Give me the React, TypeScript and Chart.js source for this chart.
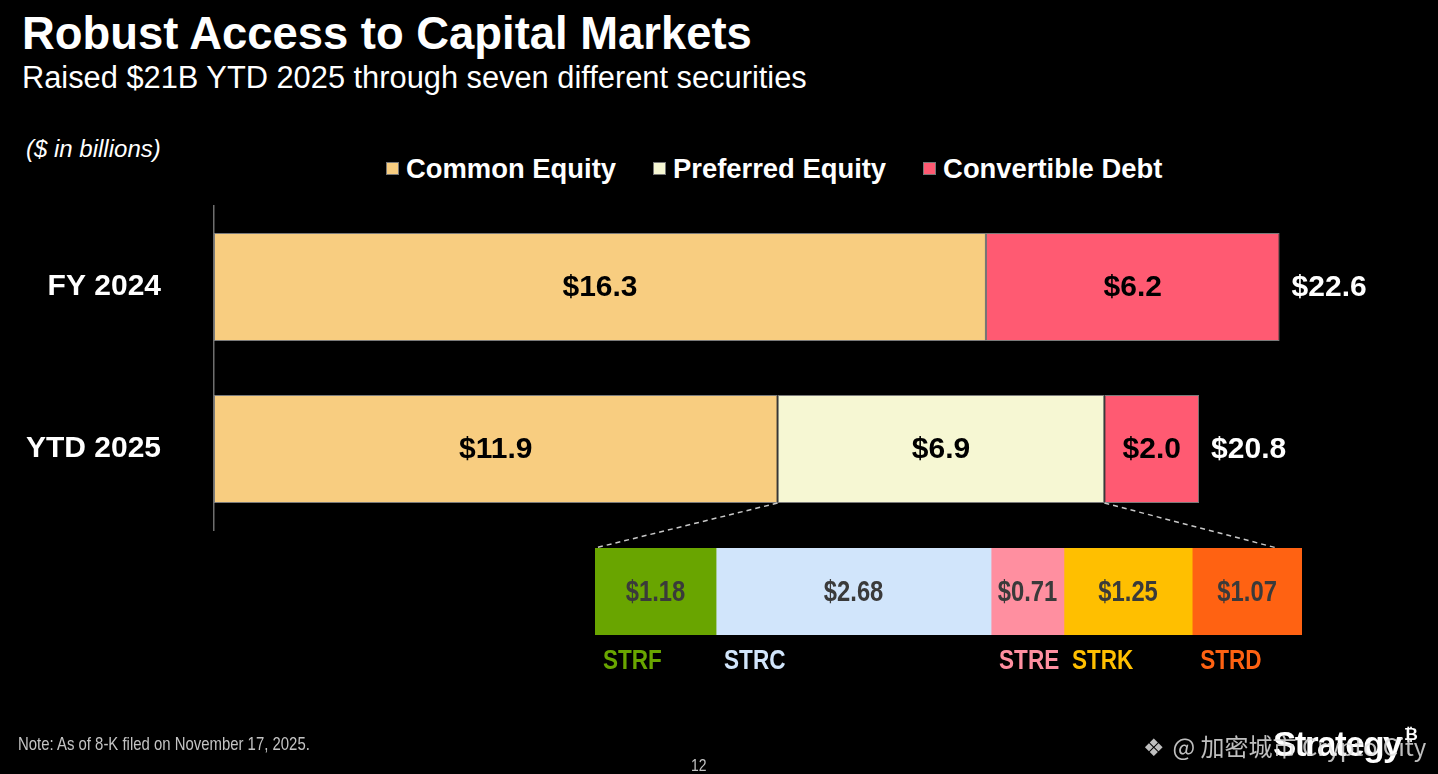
import { useEffect, useRef } from "react";
import { Chart, registerables } from "chart.js";

Chart.register(...registerables);

// ---------- data ----------
const categories = ["FY 2024", "YTD 2025"];
const seriesNames = ["Common Equity", "Preferred Equity", "Convertible Debt"];
const commonEquity = [16.3, 11.9];
const preferredEquity = [0, 6.9];
const convertibleDebt = [6.2, 2.0];
const totals = [22.6, 20.8];
const seriesColors = ["#F8CD80", "#F6F7D3", "#FF5A72"];

const prefCategory = ["Preferred Equity YTD 2025"];
const prefSecurities = ["STRF", "STRC", "STRE", "STRK", "STRD"];
const prefValues = [1.18, 2.68, 0.71, 1.25, 1.07];
const prefColors = ["#69A500", "#D1E5FB", "#FF8FA0", "#FFBF00", "#FF6212"];
const prefLabelColors = ["#69A500", "#D1E5FB", "#FF8FA0", "#FFBF00", "#FF6212"];

const titleText = "Robust Access to Capital Markets";
const subtitleText = "Raised $21B YTD 2025 through seven different securities";
const unitText = "($ in billions)";
const noteText = "Note: As of 8-K filed on November 17, 2025.";
const pageNumber = "12";

// ---------- layout ----------
const W = 1438;
const H = 774;
const PREF_LEFT = 595;
const PREF_TOP = 548;
const PREF_W = 720;
const PREF_H = 140;
const NARROW_SCALE = 0.82;

const SANS = '"Liberation Sans", Arial, Helvetica, sans-serif';

function narrowText(ctx: CanvasRenderingContext2D, text: string, x: number, y: number) {
  ctx.save();
  ctx.translate(x, y);
  ctx.scale(NARROW_SCALE, 1);
  ctx.fillText(text, 0, 0);
  ctx.restore();
}

export default function App() {
  const mainRef = useRef<HTMLCanvasElement | null>(null);
  const prefRef = useRef<HTMLCanvasElement | null>(null);

  useEffect(() => {
    if (!mainRef.current || !prefRef.current) return;

    const prefTotal = prefValues.reduce((a, b) => a + b, 0);

    const prefLabels = {
      id: "prefLabels",
      afterDatasetsDraw(chart: any) {
        const ctx = chart.ctx;
        ctx.save();
        chart.data.datasets.forEach((ds: any, i: number) => {
          const meta = chart.getDatasetMeta(i);
          meta.data.forEach((el: any, j: number) => {
            const { x, base, y, height } = el.getProps(["x", "base", "y", "height"], true);
            const v = ds.data[j];
            ctx.font = `bold 29px ${SANS}`;
            ctx.fillStyle = "#3a3a3a";
            ctx.textAlign = "center";
            ctx.textBaseline = "middle";
            narrowText(ctx, `$${v.toFixed(2)}`, (x + base) / 2, y + 1);
            ctx.font = `bold 27.5px ${SANS}`;
            ctx.fillStyle = prefLabelColors[i];
            ctx.textAlign = "left";
            narrowText(ctx, prefSecurities[i], Math.min(x, base) + 8, y + height / 2 + 26);
          });
        });
        ctx.restore();
      },
    };

    const prefChart = new Chart(prefRef.current, {
      type: "bar",
      data: {
        labels: prefCategory,
        datasets: prefSecurities.map((name, i) => ({
          label: name,
          data: [prefValues[i]],
          backgroundColor: prefColors[i],
          borderWidth: 0,
          borderSkipped: false,
          categoryPercentage: 1,
          barPercentage: 1,
        })),
      },
      options: {
        indexAxis: "y",
        responsive: false,
        animation: false,
        layout: { padding: { left: 0, top: 0, right: PREF_W - 707, bottom: PREF_H - 87 } },
        plugins: { legend: { display: false }, title: { display: false }, tooltip: { enabled: false } },
        scales: {
          x: { stacked: true, display: false, min: 0, max: prefTotal },
          y: { stacked: true, display: false },
        },
      },
      plugins: [prefLabels],
    } as any);

    const mainLabels = {
      id: "mainLabels",
      afterDatasetsDraw(chart: any) {
        const ctx = chart.ctx;
        ctx.save();
        ctx.textBaseline = "middle";
        chart.data.datasets.forEach((ds: any, i: number) => {
          const meta = chart.getDatasetMeta(i);
          meta.data.forEach((el: any, j: number) => {
            const v = ds.data[j];
            if (!v) return;
            const { x, base, y } = el.getProps(["x", "base", "y"], true);
            ctx.font = `bold 30px ${SANS}`;
            ctx.fillStyle = "#000";
            ctx.textAlign = "center";
            ctx.fillText(`$${v.toFixed(1)}`, (x + base) / 2, y + 1);
          });
        });
        // totals
        const xs = chart.scales.x;
        const ys = chart.scales.y;
        categories.forEach((_, j) => {
          const sum = commonEquity[j] + preferredEquity[j] + convertibleDebt[j];
          ctx.font = `bold 30px ${SANS}`;
          ctx.fillStyle = "#fff";
          ctx.textAlign = "left";
          ctx.fillText(`$${totals[j].toFixed(1)}`, xs.getPixelForValue(sum) + 12, ys.getPixelForValue(j) + 1);
        });
        // dashed connectors to breakdown bar
        const pEl: any = chart.getDatasetMeta(1).data[1];
        const { x, base, y, height } = pEl.getProps(["x", "base", "y", "height"], true);
        const bottom = y + height / 2;
        const pa = prefChart.chartArea;
        ctx.setLineDash([5, 4]);
        ctx.strokeStyle = "#c8c8c8";
        ctx.lineWidth = 1.5;
        ctx.beginPath();
        ctx.moveTo(base, bottom);
        ctx.lineTo(PREF_LEFT + pa.left, PREF_TOP + pa.top);
        ctx.moveTo(x, bottom);
        ctx.lineTo(PREF_LEFT + pa.right - 25, PREF_TOP + pa.top);
        ctx.stroke();
        ctx.restore();
      },
    };

    const seriesData = [commonEquity, preferredEquity, convertibleDebt];

    const mainChart = new Chart(mainRef.current, {
      type: "bar",
      data: {
        labels: categories,
        datasets: seriesNames.map((name, i) => ({
          label: name,
          data: seriesData[i],
          backgroundColor: seriesColors[i],
          borderColor: "#7a7a7a",
          borderWidth: 1,
          borderSkipped: false,
          categoryPercentage: 1,
          barPercentage: 0.667,
        })),
      },
      options: {
        indexAxis: "y",
        responsive: false,
        animation: false,
        layout: { padding: { left: 0, top: 206, right: 40, bottom: 244 } },
        plugins: { legend: { display: false }, title: { display: false }, tooltip: { enabled: false } },
        scales: {
          x: { stacked: true, display: false, min: 0, max: 25 },
          y: {
            stacked: true,
            grid: { display: false, drawTicks: false, tickLength: 0 },
            border: { display: true, color: "#6e6e6e", width: 1.5 },
            ticks: {
              color: "#fff",
              padding: 53,
              font: { family: SANS, size: 30, weight: "bold" },
            },
            afterFit: (scale: any) => {
              scale.width = 214;
            },
          },
        },
      },
      plugins: [mainLabels],
    } as any);

    return () => {
      mainChart.destroy();
      prefChart.destroy();
    };
  }, []);

  return (
    <div
      style={{
        position: "fixed",
        left: 0,
        top: 0,
        width: W,
        height: H,
        background: "#000",
        overflow: "hidden",
        fontFamily: SANS,
        color: "#fff",
      }}
    >
      <div style={{ position: "absolute", left: 22, top: 11, fontSize: 45.4, fontWeight: "bold", lineHeight: 1, whiteSpace: "nowrap" }}>
        {titleText}
      </div>
      <div style={{ position: "absolute", left: 22, top: 63, fontSize: 30.8, lineHeight: 1, whiteSpace: "nowrap" }}>
        {subtitleText}
      </div>
      <div style={{ position: "absolute", left: 26, top: 137, fontSize: 24, fontStyle: "italic", lineHeight: 1, whiteSpace: "nowrap" }}>
        {unitText}
      </div>
      <div
        style={{
          position: "absolute",
          left: 386,
          top: 155,
          display: "flex",
          alignItems: "center",
          gap: 37,
          lineHeight: 1,
          whiteSpace: "nowrap",
        }}
      >
        {seriesNames.map((n, i) => (
          <div key={n} style={{ display: "flex", alignItems: "center", gap: 7 }}>
            <div style={{ width: 13, height: 13, background: seriesColors[i], border: "1px solid #777", boxSizing: "border-box" }} />
            <span style={{ fontSize: 27.4, fontWeight: "bold" }}>{n}</span>
          </div>
        ))}
      </div>

      <canvas ref={prefRef} width={PREF_W} height={PREF_H} style={{ position: "absolute", left: PREF_LEFT, top: PREF_TOP }} />
      <canvas ref={mainRef} width={W} height={H} style={{ position: "absolute", left: 0, top: 0 }} />

      <div
        style={{
          position: "absolute",
          left: 18,
          top: 735,
          fontSize: 18.2,
          color: "#c4c4c4",
          lineHeight: 1,
          whiteSpace: "nowrap",
          transform: `scaleX(${NARROW_SCALE})`,
          transformOrigin: "left top",
        }}
      >
        {noteText}
      </div>
      <div
        style={{
          position: "absolute",
          left: 691,
          top: 757,
          fontSize: 17,
          color: "#c4c4c4",
          lineHeight: 1,
          transform: `scaleX(${NARROW_SCALE})`,
          transformOrigin: "left top",
        }}
      >
        {pageNumber}
      </div>

      <div style={{ position: "absolute", left: 1273, top: 726, fontSize: 35, fontWeight: "bold", letterSpacing: -1.5, lineHeight: 1, whiteSpace: "nowrap" }}>
        Strategy
      </div>
      <div style={{ position: "absolute", left: 1404, top: 726, fontSize: 17, fontWeight: "bold", lineHeight: 1 }}>₿</div>
      <div
        style={{
          position: "absolute",
          left: 1143,
          top: 734,
          fontSize: 24,
          lineHeight: 1,
          whiteSpace: "nowrap",
          color: "rgba(225,225,225,0.85)",
          fontFamily: '"Noto Sans CJK SC", "Liberation Sans", sans-serif',
        }}
      >
        <span style={{ fontFamily: '"DejaVu Sans", sans-serif', fontSize: 24, marginRight: 8 }}>❖</span>@ 加密城市 Crypto City
      </div>
    </div>
  );
}
